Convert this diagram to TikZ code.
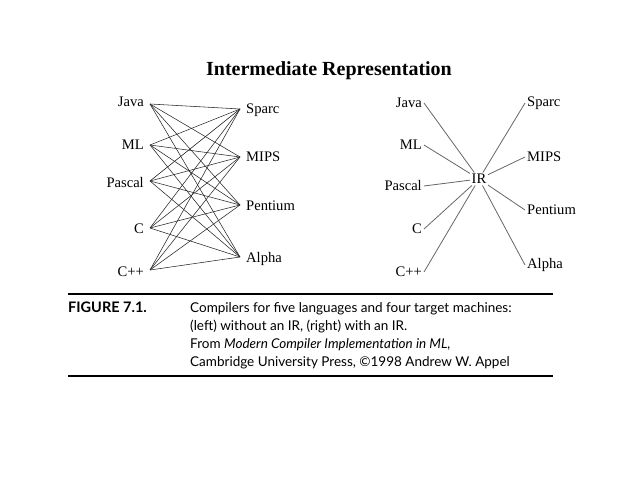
\documentclass[tikz,border=0pt]{standalone}
\usepackage{fontspec}
\setmainfont{Liberation Serif}
\newfontfamily\capfont{Lato}
\tikzset{
  lang/.style={anchor=east, inner sep=2pt, font=\fontsize{14.6}{16}\selectfont},
  target/.style={anchor=west, inner sep=2pt, font=\fontsize{14.6}{16}\selectfont},
  wire/.style={line width=0.55pt, black!85},
  spoke/.style={line width=0.8pt, black!60},
  caption/.style={anchor=base west, inner sep=0pt, font=\capfont\fontsize{13.5}{18}\selectfont},
  rule/.style={line width=2pt}
}
\begin{document}
\begin{tikzpicture}[x=1pt, y=-1pt]
    \useasboundingbox (0, 0) rectangle (638, 478);
    \node[font=\bfseries\fontsize{20}{24}\selectfont] (title) at (329, 71) {Intermediate Representation};
    % left: every language to every target
    \coordinate (l1) at (150, 104);
    \coordinate (l2) at (150, 145);
    \coordinate (l3) at (150, 181);
    \coordinate (l4) at (150, 228);
    \coordinate (l5) at (150, 270);
    \coordinate (r1) at (240, 109);
    \coordinate (r2) at (240, 157);
    \coordinate (r3) at (240, 205);
    \coordinate (r4) at (240, 257);
    \node[lang] (java) at (146, 102) {Java};
    \node[lang] (ml) at (146, 145) {ML};
    \node[lang] (pascal) at (146, 183) {Pascal};
    \node[lang] (c) at (146, 229) {C};
    \node[lang] (cpp) at (146, 272) {C++};
    \node[target] (sparc) at (244, 110) {Sparc};
    \node[target] (mips) at (244, 157) {MIPS};
    \node[target] (pentium) at (244, 206) {Pentium};
    \node[target] (alpha) at (244, 259) {Alpha};
    \foreach \i in {1,...,5}
        \foreach \j in {1,...,4}
            \draw[wire] (l\i) -- (r\j);
    % right: through the IR
    \node[inner sep=1.5pt, font=\fontsize{14.6}{16}\selectfont] (ir) at (479, 179) {IR};
    \node[lang] (java2) at (424, 103) {Java};
    \node[lang] (ml2) at (424, 145) {ML};
    \node[lang] (pascal2) at (424, 186) {Pascal};
    \node[lang] (c2) at (424, 229) {C};
    \node[lang] (cpp2) at (424, 272) {C++};
    \node[target] (sparc2) at (525, 103) {Sparc};
    \node[target] (mips2) at (525, 157) {MIPS};
    \node[target] (pentium2) at (525, 210) {Pentium};
    \node[target] (alpha2) at (525, 265) {Alpha};
    \foreach \n in {java2, ml2, pascal2, c2, cpp2}
        \draw[spoke] (\n.east) -- (ir);
    \foreach \n in {sparc2, mips2, pentium2, alpha2}
        \draw[spoke] (\n.west) -- (ir);
    % caption
    \coordinate (rule1l) at (68, 294.5);
    \coordinate (rule1r) at (553, 294.5);
    \coordinate (rule2l) at (68, 376);
    \coordinate (rule2r) at (553, 376);
    \draw[rule] (rule1l) -- (rule1r);
    \draw[rule] (rule2l) -- (rule2r);
    \node[caption, font=\capfont\bfseries\fontsize{14.5}{18}\selectfont] (fig) at (68, 313) {FIGURE 7.1.};
    \node[caption] (cap1) at (190, 313) {Compilers for five languages and four target machines:};
    \node[caption] (cap2) at (190, 331) {(left) without an IR, (right) with an IR.};
    \node[caption] (cap3) at (190, 349) {From \textit{Modern Compiler Implementation in ML,}};
    \node[caption] (cap4) at (190, 367) {Cambridge University Press, \textcopyright 1998 Andrew W. Appel};
\end{tikzpicture}
\end{document}
